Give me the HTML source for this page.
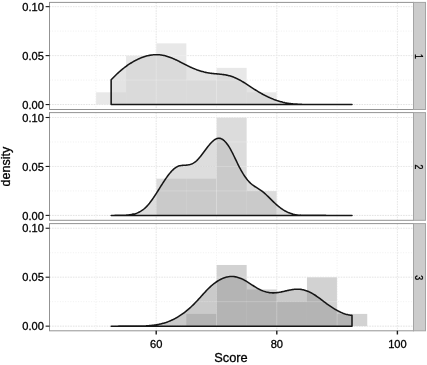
<!DOCTYPE html>
<html><head><meta charset="utf-8"><title>density</title>
<style>html,body{margin:0;padding:0;background:#fff;}svg{display:block;}</style>
</head><body>
<svg width="427" height="365" viewBox="0 0 427 365" font-family="'Liberation Sans', Arial, Helvetica, sans-serif">
<rect x="0" y="0" width="427" height="365" fill="#ffffff"/>
<g id="panel1">
<line x1="49.5" x2="413.5" y1="80.07" y2="80.07" stroke="#eeeeee" stroke-width="1" stroke-dasharray="1 1.6"/>
<line x1="49.5" x2="413.5" y1="31.12" y2="31.12" stroke="#eeeeee" stroke-width="1" stroke-dasharray="1 1.6"/>
<line x1="95.90" x2="95.90" y1="2.4" y2="109.5" stroke="#eeeeee" stroke-width="1" stroke-dasharray="1 1.6"/>
<line x1="216.50" x2="216.50" y1="2.4" y2="109.5" stroke="#eeeeee" stroke-width="1" stroke-dasharray="1 1.6"/>
<line x1="337.10" x2="337.10" y1="2.4" y2="109.5" stroke="#eeeeee" stroke-width="1" stroke-dasharray="1 1.6"/>
<line x1="49.5" x2="413.5" y1="104.55" y2="104.55" stroke="#e1e1e1" stroke-width="1" stroke-dasharray="1.6 1"/>
<line x1="49.5" x2="413.5" y1="55.60" y2="55.60" stroke="#e1e1e1" stroke-width="1" stroke-dasharray="1.6 1"/>
<line x1="49.5" x2="413.5" y1="6.65" y2="6.65" stroke="#e1e1e1" stroke-width="1" stroke-dasharray="1.6 1"/>
<line x1="156.20" x2="156.20" y1="2.4" y2="109.5" stroke="#e1e1e1" stroke-width="1" stroke-dasharray="1.6 1"/>
<line x1="276.80" x2="276.80" y1="2.4" y2="109.5" stroke="#e1e1e1" stroke-width="1" stroke-dasharray="1.6 1"/>
<line x1="397.40" x2="397.40" y1="2.4" y2="109.5" stroke="#e1e1e1" stroke-width="1" stroke-dasharray="1.6 1"/>
<rect x="95.90" y="92.31" width="30.15" height="12.24" fill="#e8e8e8"/>
<rect x="126.05" y="55.60" width="30.15" height="48.95" fill="#e8e8e8"/>
<rect x="156.20" y="43.36" width="30.15" height="61.19" fill="#e8e8e8"/>
<rect x="186.35" y="80.07" width="30.15" height="24.48" fill="#e8e8e8"/>
<rect x="216.50" y="67.84" width="30.15" height="36.71" fill="#e8e8e8"/>
<rect x="246.65" y="92.31" width="30.15" height="12.24" fill="#e8e8e8"/>
<path d="M111.15,104.55 L111.15,79.80 L111.90,79.02 L112.65,78.23 L113.40,77.45 L114.15,76.69 L114.90,75.94 L115.65,75.21 L116.40,74.49 L117.15,73.78 L117.90,73.08 L118.65,72.40 L119.40,71.73 L120.15,71.08 L120.90,70.43 L121.65,69.80 L122.40,69.19 L123.15,68.58 L123.90,67.99 L124.65,67.41 L125.40,66.85 L126.15,66.29 L126.90,65.75 L127.65,65.23 L128.40,64.71 L129.15,64.21 L129.90,63.72 L130.65,63.24 L131.40,62.77 L132.15,62.32 L132.90,61.88 L133.65,61.45 L134.40,61.03 L135.15,60.63 L135.90,60.24 L136.65,59.86 L137.40,59.49 L138.15,59.13 L138.90,58.79 L139.65,58.46 L140.40,58.14 L141.15,57.83 L141.90,57.54 L142.65,57.26 L143.40,57.00 L144.15,56.74 L144.90,56.51 L145.65,56.28 L146.40,56.07 L147.15,55.87 L147.90,55.69 L148.65,55.52 L149.40,55.37 L150.15,55.23 L150.90,55.11 L151.65,55.00 L152.40,54.91 L153.15,54.83 L153.90,54.77 L154.65,54.72 L155.40,54.69 L156.15,54.67 L156.90,54.67 L157.65,54.69 L158.40,54.73 L159.15,54.78 L159.90,54.84 L160.65,54.93 L161.40,55.03 L162.15,55.15 L162.90,55.28 L163.65,55.43 L164.40,55.60 L165.15,55.78 L165.90,55.98 L166.65,56.19 L167.40,56.42 L168.15,56.65 L168.90,56.91 L169.65,57.17 L170.40,57.45 L171.15,57.74 L171.90,58.04 L172.65,58.35 L173.40,58.67 L174.15,59.00 L174.90,59.34 L175.65,59.70 L176.40,60.06 L177.15,60.42 L177.90,60.80 L178.65,61.17 L179.40,61.56 L180.15,61.95 L180.90,62.34 L181.65,62.73 L182.40,63.12 L183.15,63.51 L183.90,63.90 L184.65,64.29 L185.40,64.67 L186.15,65.05 L186.90,65.42 L187.65,65.79 L188.40,66.15 L189.15,66.51 L189.90,66.86 L190.65,67.20 L191.40,67.53 L192.15,67.86 L192.90,68.18 L193.65,68.50 L194.40,68.80 L195.15,69.10 L195.90,69.39 L196.65,69.67 L197.40,69.95 L198.15,70.21 L198.90,70.47 L199.65,70.72 L200.40,70.96 L201.15,71.19 L201.90,71.41 L202.65,71.62 L203.40,71.82 L204.15,72.02 L204.90,72.20 L205.65,72.37 L206.40,72.53 L207.15,72.69 L207.90,72.83 L208.65,72.96 L209.40,73.08 L210.15,73.19 L210.90,73.29 L211.65,73.38 L212.40,73.47 L213.15,73.55 L213.90,73.62 L214.65,73.69 L215.40,73.76 L216.15,73.82 L216.90,73.89 L217.65,73.95 L218.40,74.02 L219.15,74.09 L219.90,74.16 L220.65,74.23 L221.40,74.32 L222.15,74.41 L222.90,74.50 L223.65,74.61 L224.40,74.72 L225.15,74.85 L225.90,74.99 L226.65,75.13 L227.40,75.29 L228.15,75.47 L228.90,75.65 L229.65,75.85 L230.40,76.06 L231.15,76.29 L231.90,76.53 L232.65,76.79 L233.40,77.07 L234.15,77.36 L234.90,77.67 L235.65,77.99 L236.40,78.34 L237.15,78.69 L237.90,79.07 L238.65,79.45 L239.40,79.85 L240.15,80.26 L240.90,80.69 L241.65,81.12 L242.40,81.56 L243.15,82.01 L243.90,82.47 L244.65,82.94 L245.40,83.41 L246.15,83.89 L246.90,84.37 L247.65,84.86 L248.40,85.35 L249.15,85.84 L249.90,86.33 L250.65,86.83 L251.40,87.32 L252.15,87.81 L252.90,88.30 L253.65,88.79 L254.40,89.28 L255.15,89.76 L255.90,90.23 L256.65,90.70 L257.40,91.16 L258.15,91.62 L258.90,92.07 L259.65,92.51 L260.40,92.94 L261.15,93.37 L261.90,93.79 L262.65,94.20 L263.40,94.61 L264.15,95.00 L264.90,95.39 L265.65,95.77 L266.40,96.15 L267.15,96.51 L267.90,96.87 L268.65,97.22 L269.40,97.56 L270.15,97.89 L270.90,98.22 L271.65,98.54 L272.40,98.84 L273.15,99.14 L273.90,99.44 L274.65,99.72 L275.40,99.99 L276.15,100.26 L276.90,100.52 L277.65,100.76 L278.40,101.00 L279.15,101.23 L279.90,101.45 L280.65,101.67 L281.40,101.87 L282.15,102.06 L282.90,102.25 L283.65,102.42 L284.40,102.59 L285.15,102.75 L285.90,102.89 L286.65,103.03 L287.40,103.17 L288.15,103.29 L288.90,103.41 L289.65,103.52 L290.40,103.62 L291.15,103.71 L291.90,103.80 L292.65,103.88 L293.40,103.95 L294.15,104.02 L294.90,104.08 L295.65,104.14 L296.40,104.07 L297.15,104.13 L297.90,104.18 L298.65,104.23 L299.40,104.27 L300.15,104.31 L300.90,104.34 L301.65,104.37 L302.40,104.40 L303.15,104.43 L303.90,104.45 L304.65,104.47 L305.40,104.48 L306.15,104.50 L306.90,104.52 L307.65,104.53 L308.40,104.54 L309.15,104.55 L309.90,104.55 L310.65,104.55 L311.40,104.55 L312.15,104.55 L312.90,104.55 L313.65,104.55 L314.40,104.55 L315.15,104.55 L315.90,104.55 L316.65,104.55 L317.40,104.55 L318.15,104.55 L318.90,104.55 L319.65,104.55 L320.40,104.55 L321.15,104.55 L321.90,104.55 L322.65,104.55 L323.40,104.55 L324.15,104.55 L324.90,104.55 L325.65,104.55 L326.40,104.55 L327.15,104.55 L327.90,104.55 L328.65,104.55 L329.40,104.55 L330.15,104.55 L330.90,104.55 L331.65,104.55 L332.40,104.55 L333.15,104.55 L333.90,104.55 L334.65,104.55 L335.40,104.55 L336.15,104.55 L336.90,104.55 L337.65,104.55 L338.40,104.55 L339.15,104.55 L339.90,104.55 L340.65,104.55 L341.40,104.55 L342.15,104.55 L342.90,104.55 L343.65,104.55 L344.40,104.55 L345.15,104.55 L345.90,104.55 L346.65,104.55 L347.40,104.55 L348.15,104.55 L348.90,104.55 L349.65,104.55 L350.40,104.55 L351.15,104.55 L351.90,104.55 L352.00,104.55 L352.00,104.55 Z" fill="rgba(209,209,209,0.61)" stroke="none"/>
<line x1="49.5" x2="413.5" y1="80.07" y2="80.07" stroke="#fff" stroke-opacity="0.22" stroke-width="1"/>
<line x1="49.5" x2="413.5" y1="55.60" y2="55.60" stroke="#fff" stroke-opacity="0.22" stroke-width="1"/>
<line x1="49.5" x2="413.5" y1="31.12" y2="31.12" stroke="#fff" stroke-opacity="0.22" stroke-width="1"/>
<line x1="49.5" x2="413.5" y1="6.65" y2="6.65" stroke="#fff" stroke-opacity="0.22" stroke-width="1"/>
<line x1="95.90" x2="95.90" y1="2.4" y2="109.5" stroke="#fff" stroke-opacity="0.22" stroke-width="1"/>
<line x1="156.20" x2="156.20" y1="2.4" y2="109.5" stroke="#fff" stroke-opacity="0.22" stroke-width="1"/>
<line x1="216.50" x2="216.50" y1="2.4" y2="109.5" stroke="#fff" stroke-opacity="0.22" stroke-width="1"/>
<line x1="276.80" x2="276.80" y1="2.4" y2="109.5" stroke="#fff" stroke-opacity="0.22" stroke-width="1"/>
<line x1="337.10" x2="337.10" y1="2.4" y2="109.5" stroke="#fff" stroke-opacity="0.22" stroke-width="1"/>
<line x1="397.40" x2="397.40" y1="2.4" y2="109.5" stroke="#fff" stroke-opacity="0.22" stroke-width="1"/>
<path d="M111.15,104.55 L111.15,79.80 L111.90,79.02 L112.65,78.23 L113.40,77.45 L114.15,76.69 L114.90,75.94 L115.65,75.21 L116.40,74.49 L117.15,73.78 L117.90,73.08 L118.65,72.40 L119.40,71.73 L120.15,71.08 L120.90,70.43 L121.65,69.80 L122.40,69.19 L123.15,68.58 L123.90,67.99 L124.65,67.41 L125.40,66.85 L126.15,66.29 L126.90,65.75 L127.65,65.23 L128.40,64.71 L129.15,64.21 L129.90,63.72 L130.65,63.24 L131.40,62.77 L132.15,62.32 L132.90,61.88 L133.65,61.45 L134.40,61.03 L135.15,60.63 L135.90,60.24 L136.65,59.86 L137.40,59.49 L138.15,59.13 L138.90,58.79 L139.65,58.46 L140.40,58.14 L141.15,57.83 L141.90,57.54 L142.65,57.26 L143.40,57.00 L144.15,56.74 L144.90,56.51 L145.65,56.28 L146.40,56.07 L147.15,55.87 L147.90,55.69 L148.65,55.52 L149.40,55.37 L150.15,55.23 L150.90,55.11 L151.65,55.00 L152.40,54.91 L153.15,54.83 L153.90,54.77 L154.65,54.72 L155.40,54.69 L156.15,54.67 L156.90,54.67 L157.65,54.69 L158.40,54.73 L159.15,54.78 L159.90,54.84 L160.65,54.93 L161.40,55.03 L162.15,55.15 L162.90,55.28 L163.65,55.43 L164.40,55.60 L165.15,55.78 L165.90,55.98 L166.65,56.19 L167.40,56.42 L168.15,56.65 L168.90,56.91 L169.65,57.17 L170.40,57.45 L171.15,57.74 L171.90,58.04 L172.65,58.35 L173.40,58.67 L174.15,59.00 L174.90,59.34 L175.65,59.70 L176.40,60.06 L177.15,60.42 L177.90,60.80 L178.65,61.17 L179.40,61.56 L180.15,61.95 L180.90,62.34 L181.65,62.73 L182.40,63.12 L183.15,63.51 L183.90,63.90 L184.65,64.29 L185.40,64.67 L186.15,65.05 L186.90,65.42 L187.65,65.79 L188.40,66.15 L189.15,66.51 L189.90,66.86 L190.65,67.20 L191.40,67.53 L192.15,67.86 L192.90,68.18 L193.65,68.50 L194.40,68.80 L195.15,69.10 L195.90,69.39 L196.65,69.67 L197.40,69.95 L198.15,70.21 L198.90,70.47 L199.65,70.72 L200.40,70.96 L201.15,71.19 L201.90,71.41 L202.65,71.62 L203.40,71.82 L204.15,72.02 L204.90,72.20 L205.65,72.37 L206.40,72.53 L207.15,72.69 L207.90,72.83 L208.65,72.96 L209.40,73.08 L210.15,73.19 L210.90,73.29 L211.65,73.38 L212.40,73.47 L213.15,73.55 L213.90,73.62 L214.65,73.69 L215.40,73.76 L216.15,73.82 L216.90,73.89 L217.65,73.95 L218.40,74.02 L219.15,74.09 L219.90,74.16 L220.65,74.23 L221.40,74.32 L222.15,74.41 L222.90,74.50 L223.65,74.61 L224.40,74.72 L225.15,74.85 L225.90,74.99 L226.65,75.13 L227.40,75.29 L228.15,75.47 L228.90,75.65 L229.65,75.85 L230.40,76.06 L231.15,76.29 L231.90,76.53 L232.65,76.79 L233.40,77.07 L234.15,77.36 L234.90,77.67 L235.65,77.99 L236.40,78.34 L237.15,78.69 L237.90,79.07 L238.65,79.45 L239.40,79.85 L240.15,80.26 L240.90,80.69 L241.65,81.12 L242.40,81.56 L243.15,82.01 L243.90,82.47 L244.65,82.94 L245.40,83.41 L246.15,83.89 L246.90,84.37 L247.65,84.86 L248.40,85.35 L249.15,85.84 L249.90,86.33 L250.65,86.83 L251.40,87.32 L252.15,87.81 L252.90,88.30 L253.65,88.79 L254.40,89.28 L255.15,89.76 L255.90,90.23 L256.65,90.70 L257.40,91.16 L258.15,91.62 L258.90,92.07 L259.65,92.51 L260.40,92.94 L261.15,93.37 L261.90,93.79 L262.65,94.20 L263.40,94.61 L264.15,95.00 L264.90,95.39 L265.65,95.77 L266.40,96.15 L267.15,96.51 L267.90,96.87 L268.65,97.22 L269.40,97.56 L270.15,97.89 L270.90,98.22 L271.65,98.54 L272.40,98.84 L273.15,99.14 L273.90,99.44 L274.65,99.72 L275.40,99.99 L276.15,100.26 L276.90,100.52 L277.65,100.76 L278.40,101.00 L279.15,101.23 L279.90,101.45 L280.65,101.67 L281.40,101.87 L282.15,102.06 L282.90,102.25 L283.65,102.42 L284.40,102.59 L285.15,102.75 L285.90,102.89 L286.65,103.03 L287.40,103.17 L288.15,103.29 L288.90,103.41 L289.65,103.52 L290.40,103.62 L291.15,103.71 L291.90,103.80 L292.65,103.88 L293.40,103.95 L294.15,104.02 L294.90,104.08 L295.65,104.14 L296.40,104.07 L297.15,104.13 L297.90,104.18 L298.65,104.23 L299.40,104.27 L300.15,104.31 L300.90,104.34 L301.65,104.37 L302.40,104.40 L303.15,104.43 L303.90,104.45 L304.65,104.47 L305.40,104.48 L306.15,104.50 L306.90,104.52 L307.65,104.53 L308.40,104.54 L309.15,104.55 L309.90,104.55 L310.65,104.55 L311.40,104.55 L312.15,104.55 L312.90,104.55 L313.65,104.55 L314.40,104.55 L315.15,104.55 L315.90,104.55 L316.65,104.55 L317.40,104.55 L318.15,104.55 L318.90,104.55 L319.65,104.55 L320.40,104.55 L321.15,104.55 L321.90,104.55 L322.65,104.55 L323.40,104.55 L324.15,104.55 L324.90,104.55 L325.65,104.55 L326.40,104.55 L327.15,104.55 L327.90,104.55 L328.65,104.55 L329.40,104.55 L330.15,104.55 L330.90,104.55 L331.65,104.55 L332.40,104.55 L333.15,104.55 L333.90,104.55 L334.65,104.55 L335.40,104.55 L336.15,104.55 L336.90,104.55 L337.65,104.55 L338.40,104.55 L339.15,104.55 L339.90,104.55 L340.65,104.55 L341.40,104.55 L342.15,104.55 L342.90,104.55 L343.65,104.55 L344.40,104.55 L345.15,104.55 L345.90,104.55 L346.65,104.55 L347.40,104.55 L348.15,104.55 L348.90,104.55 L349.65,104.55 L350.40,104.55 L351.15,104.55 L351.90,104.55 L352.00,104.55 L352.00,104.55 Z" fill="none" stroke="#161616" stroke-width="1.55" stroke-linejoin="round"/>
<rect x="49.5" y="2.4" width="364.0" height="107.1" fill="none" stroke="#939393" stroke-width="1"/>
<rect x="413.5" y="2.4" width="12.0" height="107.1" fill="#cccccc" stroke="#a4a4a4" stroke-width="1"/>
<text x="0" y="0" font-size="10.2" fill="#000" stroke="#000" stroke-width="0.3" text-anchor="middle" transform="translate(415.20,56.35) rotate(90) scale(0.86,1)">1</text>
<line x1="45.6" x2="49.5" y1="104.55" y2="104.55" stroke="#1a1a1a" stroke-width="1.1"/>
<text x="43.9" y="108.70" font-size="11.1" fill="#000" stroke="#000" stroke-width="0.3" text-anchor="end">0.00</text>
<line x1="45.6" x2="49.5" y1="55.60" y2="55.60" stroke="#1a1a1a" stroke-width="1.1"/>
<text x="43.9" y="59.75" font-size="11.1" fill="#000" stroke="#000" stroke-width="0.3" text-anchor="end">0.05</text>
<line x1="45.6" x2="49.5" y1="6.65" y2="6.65" stroke="#1a1a1a" stroke-width="1.1"/>
<text x="43.9" y="10.80" font-size="11.1" fill="#000" stroke="#000" stroke-width="0.3" text-anchor="end">0.10</text>
</g>
<g id="panel2">
<line x1="49.5" x2="413.5" y1="190.93" y2="190.93" stroke="#eeeeee" stroke-width="1" stroke-dasharray="1 1.6"/>
<line x1="49.5" x2="413.5" y1="141.98" y2="141.98" stroke="#eeeeee" stroke-width="1" stroke-dasharray="1 1.6"/>
<line x1="95.90" x2="95.90" y1="112.6" y2="220.3" stroke="#eeeeee" stroke-width="1" stroke-dasharray="1 1.6"/>
<line x1="216.50" x2="216.50" y1="112.6" y2="220.3" stroke="#eeeeee" stroke-width="1" stroke-dasharray="1 1.6"/>
<line x1="337.10" x2="337.10" y1="112.6" y2="220.3" stroke="#eeeeee" stroke-width="1" stroke-dasharray="1 1.6"/>
<line x1="49.5" x2="413.5" y1="215.40" y2="215.40" stroke="#e1e1e1" stroke-width="1" stroke-dasharray="1.6 1"/>
<line x1="49.5" x2="413.5" y1="166.45" y2="166.45" stroke="#e1e1e1" stroke-width="1" stroke-dasharray="1.6 1"/>
<line x1="49.5" x2="413.5" y1="117.50" y2="117.50" stroke="#e1e1e1" stroke-width="1" stroke-dasharray="1.6 1"/>
<line x1="156.20" x2="156.20" y1="112.6" y2="220.3" stroke="#e1e1e1" stroke-width="1" stroke-dasharray="1.6 1"/>
<line x1="276.80" x2="276.80" y1="112.6" y2="220.3" stroke="#e1e1e1" stroke-width="1" stroke-dasharray="1.6 1"/>
<line x1="397.40" x2="397.40" y1="112.6" y2="220.3" stroke="#e1e1e1" stroke-width="1" stroke-dasharray="1.6 1"/>
<rect x="156.20" y="178.69" width="30.15" height="36.71" fill="#dcdcdc"/>
<rect x="186.35" y="178.69" width="30.15" height="36.71" fill="#dcdcdc"/>
<rect x="216.50" y="117.50" width="30.15" height="97.90" fill="#dcdcdc"/>
<rect x="246.65" y="190.93" width="30.15" height="24.48" fill="#dcdcdc"/>
<path d="M111.20,215.40 L111.20,215.40 L111.95,215.40 L112.70,215.40 L113.45,215.40 L114.20,215.40 L114.95,215.39 L115.70,215.39 L116.45,215.39 L117.20,215.38 L117.95,215.38 L118.70,215.37 L119.45,215.37 L120.20,215.35 L120.95,215.34 L121.70,215.32 L122.45,215.29 L123.20,215.27 L123.95,215.24 L124.70,215.21 L125.45,215.18 L126.20,215.13 L126.95,215.06 L127.70,214.99 L128.45,214.90 L129.20,214.80 L129.95,214.69 L130.70,214.58 L131.45,214.45 L132.20,214.29 L132.95,214.11 L133.70,214.08 L134.45,213.88 L135.20,213.67 L135.95,213.43 L136.70,213.16 L137.45,212.86 L138.20,212.54 L138.95,212.18 L139.70,211.80 L140.45,211.38 L141.20,210.92 L141.95,210.43 L142.70,209.90 L143.45,209.34 L144.20,208.73 L144.95,208.08 L145.70,207.39 L146.45,206.65 L147.20,205.87 L147.95,205.05 L148.70,204.17 L149.45,203.26 L150.20,202.30 L150.95,201.31 L151.70,200.28 L152.45,199.23 L153.20,198.14 L153.95,197.04 L154.70,195.91 L155.45,194.76 L156.20,193.59 L156.95,192.41 L157.70,191.23 L158.45,190.03 L159.20,188.84 L159.95,187.64 L160.70,186.44 L161.45,185.25 L162.20,184.07 L162.95,182.90 L163.70,181.74 L164.45,180.60 L165.20,179.49 L165.95,178.39 L166.70,177.32 L167.45,176.28 L168.20,175.27 L168.95,174.30 L169.70,173.37 L170.45,172.47 L171.20,171.62 L171.95,170.82 L172.70,170.07 L173.45,169.36 L174.20,168.71 L174.95,168.11 L175.70,167.58 L176.45,167.10 L177.20,166.69 L177.95,166.34 L178.70,166.05 L179.45,165.83 L180.20,165.66 L180.95,165.53 L181.70,165.44 L182.45,165.37 L183.20,165.32 L183.95,165.27 L184.70,165.23 L185.45,165.18 L186.20,165.12 L186.95,165.04 L187.70,164.95 L188.45,164.83 L189.20,164.68 L189.95,164.50 L190.70,164.28 L191.45,164.02 L192.20,163.71 L192.95,163.35 L193.70,162.93 L194.45,162.45 L195.20,161.90 L195.95,161.28 L196.70,160.60 L197.45,159.86 L198.20,159.07 L198.95,158.23 L199.70,157.36 L200.45,156.44 L201.20,155.50 L201.95,154.53 L202.70,153.54 L203.45,152.54 L204.20,151.53 L204.95,150.52 L205.70,149.51 L206.45,148.51 L207.20,147.53 L207.95,146.57 L208.70,145.63 L209.45,144.72 L210.20,143.85 L210.95,143.02 L211.70,142.24 L212.45,141.51 L213.20,140.84 L213.95,140.24 L214.70,139.70 L215.45,139.24 L216.20,138.87 L216.95,138.58 L217.70,138.38 L218.45,138.28 L219.20,138.27 L219.95,138.37 L220.70,138.56 L221.45,138.85 L222.20,139.24 L222.95,139.71 L223.70,140.28 L224.45,140.93 L225.20,141.68 L225.95,142.51 L226.70,143.42 L227.45,144.42 L228.20,145.49 L228.95,146.65 L229.70,147.89 L230.45,149.20 L231.20,150.57 L231.95,152.00 L232.70,153.47 L233.45,154.98 L234.20,156.52 L234.95,158.07 L235.70,159.64 L236.45,161.20 L237.20,162.76 L237.95,164.30 L238.70,165.81 L239.45,167.29 L240.20,168.72 L240.95,170.10 L241.70,171.43 L242.45,172.70 L243.20,173.93 L243.95,175.10 L244.70,176.22 L245.45,177.30 L246.20,178.31 L246.95,179.28 L247.70,180.20 L248.45,181.06 L249.20,181.87 L249.95,182.63 L250.70,183.34 L251.45,183.99 L252.20,184.61 L252.95,185.18 L253.70,185.72 L254.45,186.24 L255.20,186.73 L255.95,187.20 L256.70,187.67 L257.45,188.13 L258.20,188.59 L258.95,189.05 L259.70,189.53 L260.45,190.03 L261.20,190.55 L261.95,191.10 L262.70,191.69 L263.45,192.30 L264.20,192.94 L264.95,193.60 L265.70,194.28 L266.45,194.98 L267.20,195.70 L267.95,196.43 L268.70,197.16 L269.45,197.91 L270.20,198.65 L270.95,199.40 L271.70,200.15 L272.45,200.89 L273.20,201.62 L273.95,202.34 L274.70,203.05 L275.45,203.74 L276.20,204.41 L276.95,205.07 L277.70,205.71 L278.45,206.32 L279.20,206.92 L279.95,207.50 L280.70,208.06 L281.45,208.60 L282.20,209.12 L282.95,209.62 L283.70,210.09 L284.45,210.54 L285.20,210.97 L285.95,211.38 L286.70,211.77 L287.45,212.13 L288.20,212.47 L288.95,212.78 L289.70,213.08 L290.45,213.35 L291.20,213.61 L291.95,213.84 L292.70,214.06 L293.45,214.26 L294.20,214.43 L294.95,214.60 L295.70,214.74 L296.45,214.87 L297.20,214.98 L297.95,215.07 L298.70,215.15 L299.45,215.22 L300.20,215.11 L300.95,215.16 L301.70,215.20 L302.45,215.23 L303.20,215.26 L303.95,215.28 L304.70,215.31 L305.45,215.33 L306.20,215.36 L306.95,215.37 L307.70,215.38 L308.45,215.38 L309.20,215.38 L309.95,215.38 L310.70,215.38 L311.45,215.38 L312.20,215.38 L312.95,215.39 L313.70,215.39 L314.45,215.39 L315.20,215.39 L315.95,215.39 L316.70,215.39 L317.45,215.39 L318.20,215.39 L318.95,215.39 L319.70,215.39 L320.45,215.39 L321.20,215.39 L321.95,215.39 L322.70,215.39 L323.45,215.39 L324.20,215.39 L324.95,215.39 L325.70,215.39 L326.45,215.40 L327.20,215.40 L327.95,215.40 L328.70,215.40 L329.45,215.40 L330.20,215.40 L330.95,215.40 L331.70,215.40 L332.45,215.40 L333.20,215.40 L333.95,215.40 L334.70,215.40 L335.45,215.40 L336.20,215.40 L336.95,215.40 L337.70,215.40 L338.45,215.40 L339.20,215.40 L339.95,215.40 L340.70,215.40 L341.45,215.40 L342.20,215.40 L342.95,215.40 L343.70,215.40 L344.45,215.40 L345.20,215.40 L345.95,215.40 L346.70,215.40 L347.45,215.40 L348.20,215.40 L348.95,215.40 L349.70,215.40 L350.45,215.40 L351.20,215.40 L351.95,215.40 L352.00,215.40 L352.00,215.40 Z" fill="rgba(181,181,181,0.46)" stroke="none"/>
<line x1="49.5" x2="413.5" y1="190.93" y2="190.93" stroke="#fff" stroke-opacity="0.22" stroke-width="1"/>
<line x1="49.5" x2="413.5" y1="166.45" y2="166.45" stroke="#fff" stroke-opacity="0.22" stroke-width="1"/>
<line x1="49.5" x2="413.5" y1="141.98" y2="141.98" stroke="#fff" stroke-opacity="0.22" stroke-width="1"/>
<line x1="49.5" x2="413.5" y1="117.50" y2="117.50" stroke="#fff" stroke-opacity="0.22" stroke-width="1"/>
<line x1="95.90" x2="95.90" y1="112.6" y2="220.3" stroke="#fff" stroke-opacity="0.22" stroke-width="1"/>
<line x1="156.20" x2="156.20" y1="112.6" y2="220.3" stroke="#fff" stroke-opacity="0.22" stroke-width="1"/>
<line x1="216.50" x2="216.50" y1="112.6" y2="220.3" stroke="#fff" stroke-opacity="0.22" stroke-width="1"/>
<line x1="276.80" x2="276.80" y1="112.6" y2="220.3" stroke="#fff" stroke-opacity="0.22" stroke-width="1"/>
<line x1="337.10" x2="337.10" y1="112.6" y2="220.3" stroke="#fff" stroke-opacity="0.22" stroke-width="1"/>
<line x1="397.40" x2="397.40" y1="112.6" y2="220.3" stroke="#fff" stroke-opacity="0.22" stroke-width="1"/>
<path d="M111.20,215.40 L111.20,215.40 L111.95,215.40 L112.70,215.40 L113.45,215.40 L114.20,215.40 L114.95,215.39 L115.70,215.39 L116.45,215.39 L117.20,215.38 L117.95,215.38 L118.70,215.37 L119.45,215.37 L120.20,215.35 L120.95,215.34 L121.70,215.32 L122.45,215.29 L123.20,215.27 L123.95,215.24 L124.70,215.21 L125.45,215.18 L126.20,215.13 L126.95,215.06 L127.70,214.99 L128.45,214.90 L129.20,214.80 L129.95,214.69 L130.70,214.58 L131.45,214.45 L132.20,214.29 L132.95,214.11 L133.70,214.08 L134.45,213.88 L135.20,213.67 L135.95,213.43 L136.70,213.16 L137.45,212.86 L138.20,212.54 L138.95,212.18 L139.70,211.80 L140.45,211.38 L141.20,210.92 L141.95,210.43 L142.70,209.90 L143.45,209.34 L144.20,208.73 L144.95,208.08 L145.70,207.39 L146.45,206.65 L147.20,205.87 L147.95,205.05 L148.70,204.17 L149.45,203.26 L150.20,202.30 L150.95,201.31 L151.70,200.28 L152.45,199.23 L153.20,198.14 L153.95,197.04 L154.70,195.91 L155.45,194.76 L156.20,193.59 L156.95,192.41 L157.70,191.23 L158.45,190.03 L159.20,188.84 L159.95,187.64 L160.70,186.44 L161.45,185.25 L162.20,184.07 L162.95,182.90 L163.70,181.74 L164.45,180.60 L165.20,179.49 L165.95,178.39 L166.70,177.32 L167.45,176.28 L168.20,175.27 L168.95,174.30 L169.70,173.37 L170.45,172.47 L171.20,171.62 L171.95,170.82 L172.70,170.07 L173.45,169.36 L174.20,168.71 L174.95,168.11 L175.70,167.58 L176.45,167.10 L177.20,166.69 L177.95,166.34 L178.70,166.05 L179.45,165.83 L180.20,165.66 L180.95,165.53 L181.70,165.44 L182.45,165.37 L183.20,165.32 L183.95,165.27 L184.70,165.23 L185.45,165.18 L186.20,165.12 L186.95,165.04 L187.70,164.95 L188.45,164.83 L189.20,164.68 L189.95,164.50 L190.70,164.28 L191.45,164.02 L192.20,163.71 L192.95,163.35 L193.70,162.93 L194.45,162.45 L195.20,161.90 L195.95,161.28 L196.70,160.60 L197.45,159.86 L198.20,159.07 L198.95,158.23 L199.70,157.36 L200.45,156.44 L201.20,155.50 L201.95,154.53 L202.70,153.54 L203.45,152.54 L204.20,151.53 L204.95,150.52 L205.70,149.51 L206.45,148.51 L207.20,147.53 L207.95,146.57 L208.70,145.63 L209.45,144.72 L210.20,143.85 L210.95,143.02 L211.70,142.24 L212.45,141.51 L213.20,140.84 L213.95,140.24 L214.70,139.70 L215.45,139.24 L216.20,138.87 L216.95,138.58 L217.70,138.38 L218.45,138.28 L219.20,138.27 L219.95,138.37 L220.70,138.56 L221.45,138.85 L222.20,139.24 L222.95,139.71 L223.70,140.28 L224.45,140.93 L225.20,141.68 L225.95,142.51 L226.70,143.42 L227.45,144.42 L228.20,145.49 L228.95,146.65 L229.70,147.89 L230.45,149.20 L231.20,150.57 L231.95,152.00 L232.70,153.47 L233.45,154.98 L234.20,156.52 L234.95,158.07 L235.70,159.64 L236.45,161.20 L237.20,162.76 L237.95,164.30 L238.70,165.81 L239.45,167.29 L240.20,168.72 L240.95,170.10 L241.70,171.43 L242.45,172.70 L243.20,173.93 L243.95,175.10 L244.70,176.22 L245.45,177.30 L246.20,178.31 L246.95,179.28 L247.70,180.20 L248.45,181.06 L249.20,181.87 L249.95,182.63 L250.70,183.34 L251.45,183.99 L252.20,184.61 L252.95,185.18 L253.70,185.72 L254.45,186.24 L255.20,186.73 L255.95,187.20 L256.70,187.67 L257.45,188.13 L258.20,188.59 L258.95,189.05 L259.70,189.53 L260.45,190.03 L261.20,190.55 L261.95,191.10 L262.70,191.69 L263.45,192.30 L264.20,192.94 L264.95,193.60 L265.70,194.28 L266.45,194.98 L267.20,195.70 L267.95,196.43 L268.70,197.16 L269.45,197.91 L270.20,198.65 L270.95,199.40 L271.70,200.15 L272.45,200.89 L273.20,201.62 L273.95,202.34 L274.70,203.05 L275.45,203.74 L276.20,204.41 L276.95,205.07 L277.70,205.71 L278.45,206.32 L279.20,206.92 L279.95,207.50 L280.70,208.06 L281.45,208.60 L282.20,209.12 L282.95,209.62 L283.70,210.09 L284.45,210.54 L285.20,210.97 L285.95,211.38 L286.70,211.77 L287.45,212.13 L288.20,212.47 L288.95,212.78 L289.70,213.08 L290.45,213.35 L291.20,213.61 L291.95,213.84 L292.70,214.06 L293.45,214.26 L294.20,214.43 L294.95,214.60 L295.70,214.74 L296.45,214.87 L297.20,214.98 L297.95,215.07 L298.70,215.15 L299.45,215.22 L300.20,215.11 L300.95,215.16 L301.70,215.20 L302.45,215.23 L303.20,215.26 L303.95,215.28 L304.70,215.31 L305.45,215.33 L306.20,215.36 L306.95,215.37 L307.70,215.38 L308.45,215.38 L309.20,215.38 L309.95,215.38 L310.70,215.38 L311.45,215.38 L312.20,215.38 L312.95,215.39 L313.70,215.39 L314.45,215.39 L315.20,215.39 L315.95,215.39 L316.70,215.39 L317.45,215.39 L318.20,215.39 L318.95,215.39 L319.70,215.39 L320.45,215.39 L321.20,215.39 L321.95,215.39 L322.70,215.39 L323.45,215.39 L324.20,215.39 L324.95,215.39 L325.70,215.39 L326.45,215.40 L327.20,215.40 L327.95,215.40 L328.70,215.40 L329.45,215.40 L330.20,215.40 L330.95,215.40 L331.70,215.40 L332.45,215.40 L333.20,215.40 L333.95,215.40 L334.70,215.40 L335.45,215.40 L336.20,215.40 L336.95,215.40 L337.70,215.40 L338.45,215.40 L339.20,215.40 L339.95,215.40 L340.70,215.40 L341.45,215.40 L342.20,215.40 L342.95,215.40 L343.70,215.40 L344.45,215.40 L345.20,215.40 L345.95,215.40 L346.70,215.40 L347.45,215.40 L348.20,215.40 L348.95,215.40 L349.70,215.40 L350.45,215.40 L351.20,215.40 L351.95,215.40 L352.00,215.40 L352.00,215.40 Z" fill="none" stroke="#161616" stroke-width="1.55" stroke-linejoin="round"/>
<rect x="49.5" y="112.6" width="364.0" height="107.70000000000002" fill="none" stroke="#939393" stroke-width="1"/>
<rect x="413.5" y="112.6" width="12.0" height="107.70000000000002" fill="#cccccc" stroke="#a4a4a4" stroke-width="1"/>
<text x="0" y="0" font-size="10.2" fill="#000" stroke="#000" stroke-width="0.3" text-anchor="middle" transform="translate(415.20,166.85) rotate(90) scale(0.86,1)">2</text>
<line x1="45.6" x2="49.5" y1="215.40" y2="215.40" stroke="#1a1a1a" stroke-width="1.1"/>
<text x="43.9" y="219.55" font-size="11.1" fill="#000" stroke="#000" stroke-width="0.3" text-anchor="end">0.00</text>
<line x1="45.6" x2="49.5" y1="166.45" y2="166.45" stroke="#1a1a1a" stroke-width="1.1"/>
<text x="43.9" y="170.60" font-size="11.1" fill="#000" stroke="#000" stroke-width="0.3" text-anchor="end">0.05</text>
<line x1="45.6" x2="49.5" y1="117.50" y2="117.50" stroke="#1a1a1a" stroke-width="1.1"/>
<text x="43.9" y="121.65" font-size="11.1" fill="#000" stroke="#000" stroke-width="0.3" text-anchor="end">0.10</text>
</g>
<g id="panel3">
<line x1="49.5" x2="413.5" y1="301.67" y2="301.67" stroke="#eeeeee" stroke-width="1" stroke-dasharray="1 1.6"/>
<line x1="49.5" x2="413.5" y1="252.72" y2="252.72" stroke="#eeeeee" stroke-width="1" stroke-dasharray="1 1.6"/>
<line x1="95.90" x2="95.90" y1="223.6" y2="330.8" stroke="#eeeeee" stroke-width="1" stroke-dasharray="1 1.6"/>
<line x1="216.50" x2="216.50" y1="223.6" y2="330.8" stroke="#eeeeee" stroke-width="1" stroke-dasharray="1 1.6"/>
<line x1="337.10" x2="337.10" y1="223.6" y2="330.8" stroke="#eeeeee" stroke-width="1" stroke-dasharray="1 1.6"/>
<line x1="49.5" x2="413.5" y1="326.15" y2="326.15" stroke="#e1e1e1" stroke-width="1" stroke-dasharray="1.6 1"/>
<line x1="49.5" x2="413.5" y1="277.20" y2="277.20" stroke="#e1e1e1" stroke-width="1" stroke-dasharray="1.6 1"/>
<line x1="49.5" x2="413.5" y1="228.25" y2="228.25" stroke="#e1e1e1" stroke-width="1" stroke-dasharray="1.6 1"/>
<line x1="156.20" x2="156.20" y1="223.6" y2="330.8" stroke="#e1e1e1" stroke-width="1" stroke-dasharray="1.6 1"/>
<line x1="276.80" x2="276.80" y1="223.6" y2="330.8" stroke="#e1e1e1" stroke-width="1" stroke-dasharray="1.6 1"/>
<line x1="397.40" x2="397.40" y1="223.6" y2="330.8" stroke="#e1e1e1" stroke-width="1" stroke-dasharray="1.6 1"/>
<rect x="186.35" y="313.91" width="30.15" height="12.24" fill="#d2d2d2"/>
<rect x="216.50" y="264.96" width="30.15" height="61.19" fill="#d2d2d2"/>
<rect x="246.65" y="289.44" width="30.15" height="36.71" fill="#d2d2d2"/>
<rect x="276.80" y="301.67" width="30.15" height="24.48" fill="#d2d2d2"/>
<rect x="306.95" y="277.20" width="30.15" height="48.95" fill="#d2d2d2"/>
<rect x="337.10" y="313.91" width="30.15" height="12.24" fill="#d2d2d2"/>
<path d="M111.20,326.15 L111.20,326.15 L111.95,326.15 L112.70,326.15 L113.45,326.15 L114.20,326.15 L114.95,326.15 L115.70,326.15 L116.45,326.15 L117.20,326.15 L117.95,326.15 L118.70,326.14 L119.45,326.14 L120.20,326.14 L120.95,326.14 L121.70,326.14 L122.45,326.14 L123.20,326.14 L123.95,326.14 L124.70,326.13 L125.45,326.13 L126.20,326.13 L126.95,326.13 L127.70,326.13 L128.45,326.12 L129.20,326.12 L129.95,326.12 L130.70,326.12 L131.45,326.11 L132.20,326.11 L132.95,326.11 L133.70,326.11 L134.45,326.10 L135.20,326.10 L135.95,326.10 L136.70,326.09 L137.45,326.08 L138.20,326.08 L138.95,326.07 L139.70,326.06 L140.45,326.05 L141.20,326.03 L141.95,326.02 L142.70,326.01 L143.45,325.99 L144.20,325.97 L144.95,325.95 L145.70,325.92 L146.45,325.88 L147.20,325.83 L147.95,325.76 L148.70,325.69 L149.45,325.62 L150.20,325.54 L150.95,325.46 L151.70,325.38 L152.45,325.28 L153.20,325.18 L153.95,325.14 L154.70,325.03 L155.45,324.92 L156.20,324.80 L156.95,324.68 L157.70,324.54 L158.45,324.40 L159.20,324.25 L159.95,324.09 L160.70,323.92 L161.45,323.73 L162.20,323.54 L162.95,323.34 L163.70,323.13 L164.45,322.91 L165.20,322.68 L165.95,322.44 L166.70,322.18 L167.45,321.92 L168.20,321.64 L168.95,321.35 L169.70,321.05 L170.45,320.73 L171.20,320.40 L171.95,320.06 L172.70,319.71 L173.45,319.34 L174.20,318.96 L174.95,318.57 L175.70,318.17 L176.45,317.75 L177.20,317.32 L177.95,316.87 L178.70,316.41 L179.45,315.94 L180.20,315.46 L180.95,314.96 L181.70,314.45 L182.45,313.92 L183.20,313.38 L183.95,312.83 L184.70,312.26 L185.45,311.68 L186.20,311.08 L186.95,310.47 L187.70,309.85 L188.45,309.21 L189.20,308.56 L189.95,307.90 L190.70,307.22 L191.45,306.52 L192.20,305.81 L192.95,305.09 L193.70,304.35 L194.45,303.60 L195.20,302.83 L195.95,302.05 L196.70,301.26 L197.45,300.45 L198.20,299.64 L198.95,298.81 L199.70,297.98 L200.45,297.15 L201.20,296.31 L201.95,295.48 L202.70,294.64 L203.45,293.82 L204.20,292.99 L204.95,292.18 L205.70,291.37 L206.45,290.58 L207.20,289.80 L207.95,289.04 L208.70,288.29 L209.45,287.57 L210.20,286.86 L210.95,286.18 L211.70,285.51 L212.45,284.87 L213.20,284.26 L213.95,283.66 L214.70,283.09 L215.45,282.53 L216.20,282.01 L216.95,281.50 L217.70,281.02 L218.45,280.56 L219.20,280.12 L219.95,279.71 L220.70,279.32 L221.45,278.96 L222.20,278.62 L222.95,278.30 L223.70,278.01 L224.45,277.75 L225.20,277.51 L225.95,277.29 L226.70,277.10 L227.45,276.94 L228.20,276.80 L228.95,276.68 L229.70,276.60 L230.45,276.53 L231.20,276.50 L231.95,276.49 L232.70,276.51 L233.45,276.56 L234.20,276.64 L234.95,276.74 L235.70,276.88 L236.45,277.03 L237.20,277.22 L237.95,277.43 L238.70,277.66 L239.45,277.92 L240.20,278.20 L240.95,278.50 L241.70,278.82 L242.45,279.17 L243.20,279.53 L243.95,279.92 L244.70,280.32 L245.45,280.75 L246.20,281.18 L246.95,281.64 L247.70,282.10 L248.45,282.57 L249.20,283.06 L249.95,283.55 L250.70,284.04 L251.45,284.53 L252.20,285.03 L252.95,285.52 L253.70,286.01 L254.45,286.49 L255.20,286.96 L255.95,287.42 L256.70,287.87 L257.45,288.31 L258.20,288.73 L258.95,289.13 L259.70,289.51 L260.45,289.87 L261.20,290.21 L261.95,290.53 L262.70,290.83 L263.45,291.11 L264.20,291.37 L264.95,291.61 L265.70,291.83 L266.45,292.03 L267.20,292.21 L267.95,292.36 L268.70,292.50 L269.45,292.62 L270.20,292.71 L270.95,292.79 L271.70,292.84 L272.45,292.87 L273.20,292.88 L273.95,292.87 L274.70,292.84 L275.45,292.79 L276.20,292.72 L276.95,292.64 L277.70,292.55 L278.45,292.43 L279.20,292.31 L279.95,292.18 L280.70,292.04 L281.45,291.88 L282.20,291.73 L282.95,291.56 L283.70,291.39 L284.45,291.22 L285.20,291.05 L285.95,290.88 L286.70,290.71 L287.45,290.54 L288.20,290.37 L288.95,290.21 L289.70,290.06 L290.45,289.91 L291.20,289.77 L291.95,289.64 L292.70,289.53 L293.45,289.43 L294.20,289.34 L294.95,289.26 L295.70,289.21 L296.45,289.17 L297.20,289.15 L297.95,289.15 L298.70,289.18 L299.45,289.22 L300.20,289.29 L300.95,289.39 L301.70,289.50 L302.45,289.64 L303.20,289.81 L303.95,289.99 L304.70,290.20 L305.45,290.43 L306.20,290.68 L306.95,290.95 L307.70,291.24 L308.45,291.55 L309.20,291.89 L309.95,292.24 L310.70,292.62 L311.45,293.01 L312.20,293.42 L312.95,293.85 L313.70,294.31 L314.45,294.77 L315.20,295.26 L315.95,295.76 L316.70,296.27 L317.45,296.80 L318.20,297.33 L318.95,297.88 L319.70,298.43 L320.45,298.99 L321.20,299.55 L321.95,300.12 L322.70,300.69 L323.45,301.26 L324.20,301.82 L324.95,302.39 L325.70,302.95 L326.45,303.51 L327.20,304.06 L327.95,304.60 L328.70,305.13 L329.45,305.66 L330.20,306.18 L330.95,306.68 L331.70,307.18 L332.45,307.67 L333.20,308.14 L333.95,308.61 L334.70,309.06 L335.45,309.50 L336.20,309.93 L336.95,310.35 L337.70,310.75 L338.45,311.14 L339.20,311.52 L339.95,311.88 L340.70,312.23 L341.45,312.56 L342.20,312.87 L342.95,313.17 L343.70,313.45 L344.45,313.72 L345.20,313.97 L345.95,314.20 L346.70,314.41 L347.45,314.60 L348.20,314.78 L348.95,314.93 L349.70,315.07 L350.45,315.18 L351.20,315.28 L351.95,315.35 L352.00,315.50 L352.00,326.15 Z" fill="rgba(151,151,151,0.51)" stroke="none"/>
<line x1="49.5" x2="413.5" y1="301.67" y2="301.67" stroke="#fff" stroke-opacity="0.22" stroke-width="1"/>
<line x1="49.5" x2="413.5" y1="277.20" y2="277.20" stroke="#fff" stroke-opacity="0.22" stroke-width="1"/>
<line x1="49.5" x2="413.5" y1="252.72" y2="252.72" stroke="#fff" stroke-opacity="0.22" stroke-width="1"/>
<line x1="49.5" x2="413.5" y1="228.25" y2="228.25" stroke="#fff" stroke-opacity="0.22" stroke-width="1"/>
<line x1="95.90" x2="95.90" y1="223.6" y2="330.8" stroke="#fff" stroke-opacity="0.22" stroke-width="1"/>
<line x1="156.20" x2="156.20" y1="223.6" y2="330.8" stroke="#fff" stroke-opacity="0.22" stroke-width="1"/>
<line x1="216.50" x2="216.50" y1="223.6" y2="330.8" stroke="#fff" stroke-opacity="0.22" stroke-width="1"/>
<line x1="276.80" x2="276.80" y1="223.6" y2="330.8" stroke="#fff" stroke-opacity="0.22" stroke-width="1"/>
<line x1="337.10" x2="337.10" y1="223.6" y2="330.8" stroke="#fff" stroke-opacity="0.22" stroke-width="1"/>
<line x1="397.40" x2="397.40" y1="223.6" y2="330.8" stroke="#fff" stroke-opacity="0.22" stroke-width="1"/>
<path d="M111.20,326.15 L111.20,326.15 L111.95,326.15 L112.70,326.15 L113.45,326.15 L114.20,326.15 L114.95,326.15 L115.70,326.15 L116.45,326.15 L117.20,326.15 L117.95,326.15 L118.70,326.14 L119.45,326.14 L120.20,326.14 L120.95,326.14 L121.70,326.14 L122.45,326.14 L123.20,326.14 L123.95,326.14 L124.70,326.13 L125.45,326.13 L126.20,326.13 L126.95,326.13 L127.70,326.13 L128.45,326.12 L129.20,326.12 L129.95,326.12 L130.70,326.12 L131.45,326.11 L132.20,326.11 L132.95,326.11 L133.70,326.11 L134.45,326.10 L135.20,326.10 L135.95,326.10 L136.70,326.09 L137.45,326.08 L138.20,326.08 L138.95,326.07 L139.70,326.06 L140.45,326.05 L141.20,326.03 L141.95,326.02 L142.70,326.01 L143.45,325.99 L144.20,325.97 L144.95,325.95 L145.70,325.92 L146.45,325.88 L147.20,325.83 L147.95,325.76 L148.70,325.69 L149.45,325.62 L150.20,325.54 L150.95,325.46 L151.70,325.38 L152.45,325.28 L153.20,325.18 L153.95,325.14 L154.70,325.03 L155.45,324.92 L156.20,324.80 L156.95,324.68 L157.70,324.54 L158.45,324.40 L159.20,324.25 L159.95,324.09 L160.70,323.92 L161.45,323.73 L162.20,323.54 L162.95,323.34 L163.70,323.13 L164.45,322.91 L165.20,322.68 L165.95,322.44 L166.70,322.18 L167.45,321.92 L168.20,321.64 L168.95,321.35 L169.70,321.05 L170.45,320.73 L171.20,320.40 L171.95,320.06 L172.70,319.71 L173.45,319.34 L174.20,318.96 L174.95,318.57 L175.70,318.17 L176.45,317.75 L177.20,317.32 L177.95,316.87 L178.70,316.41 L179.45,315.94 L180.20,315.46 L180.95,314.96 L181.70,314.45 L182.45,313.92 L183.20,313.38 L183.95,312.83 L184.70,312.26 L185.45,311.68 L186.20,311.08 L186.95,310.47 L187.70,309.85 L188.45,309.21 L189.20,308.56 L189.95,307.90 L190.70,307.22 L191.45,306.52 L192.20,305.81 L192.95,305.09 L193.70,304.35 L194.45,303.60 L195.20,302.83 L195.95,302.05 L196.70,301.26 L197.45,300.45 L198.20,299.64 L198.95,298.81 L199.70,297.98 L200.45,297.15 L201.20,296.31 L201.95,295.48 L202.70,294.64 L203.45,293.82 L204.20,292.99 L204.95,292.18 L205.70,291.37 L206.45,290.58 L207.20,289.80 L207.95,289.04 L208.70,288.29 L209.45,287.57 L210.20,286.86 L210.95,286.18 L211.70,285.51 L212.45,284.87 L213.20,284.26 L213.95,283.66 L214.70,283.09 L215.45,282.53 L216.20,282.01 L216.95,281.50 L217.70,281.02 L218.45,280.56 L219.20,280.12 L219.95,279.71 L220.70,279.32 L221.45,278.96 L222.20,278.62 L222.95,278.30 L223.70,278.01 L224.45,277.75 L225.20,277.51 L225.95,277.29 L226.70,277.10 L227.45,276.94 L228.20,276.80 L228.95,276.68 L229.70,276.60 L230.45,276.53 L231.20,276.50 L231.95,276.49 L232.70,276.51 L233.45,276.56 L234.20,276.64 L234.95,276.74 L235.70,276.88 L236.45,277.03 L237.20,277.22 L237.95,277.43 L238.70,277.66 L239.45,277.92 L240.20,278.20 L240.95,278.50 L241.70,278.82 L242.45,279.17 L243.20,279.53 L243.95,279.92 L244.70,280.32 L245.45,280.75 L246.20,281.18 L246.95,281.64 L247.70,282.10 L248.45,282.57 L249.20,283.06 L249.95,283.55 L250.70,284.04 L251.45,284.53 L252.20,285.03 L252.95,285.52 L253.70,286.01 L254.45,286.49 L255.20,286.96 L255.95,287.42 L256.70,287.87 L257.45,288.31 L258.20,288.73 L258.95,289.13 L259.70,289.51 L260.45,289.87 L261.20,290.21 L261.95,290.53 L262.70,290.83 L263.45,291.11 L264.20,291.37 L264.95,291.61 L265.70,291.83 L266.45,292.03 L267.20,292.21 L267.95,292.36 L268.70,292.50 L269.45,292.62 L270.20,292.71 L270.95,292.79 L271.70,292.84 L272.45,292.87 L273.20,292.88 L273.95,292.87 L274.70,292.84 L275.45,292.79 L276.20,292.72 L276.95,292.64 L277.70,292.55 L278.45,292.43 L279.20,292.31 L279.95,292.18 L280.70,292.04 L281.45,291.88 L282.20,291.73 L282.95,291.56 L283.70,291.39 L284.45,291.22 L285.20,291.05 L285.95,290.88 L286.70,290.71 L287.45,290.54 L288.20,290.37 L288.95,290.21 L289.70,290.06 L290.45,289.91 L291.20,289.77 L291.95,289.64 L292.70,289.53 L293.45,289.43 L294.20,289.34 L294.95,289.26 L295.70,289.21 L296.45,289.17 L297.20,289.15 L297.95,289.15 L298.70,289.18 L299.45,289.22 L300.20,289.29 L300.95,289.39 L301.70,289.50 L302.45,289.64 L303.20,289.81 L303.95,289.99 L304.70,290.20 L305.45,290.43 L306.20,290.68 L306.95,290.95 L307.70,291.24 L308.45,291.55 L309.20,291.89 L309.95,292.24 L310.70,292.62 L311.45,293.01 L312.20,293.42 L312.95,293.85 L313.70,294.31 L314.45,294.77 L315.20,295.26 L315.95,295.76 L316.70,296.27 L317.45,296.80 L318.20,297.33 L318.95,297.88 L319.70,298.43 L320.45,298.99 L321.20,299.55 L321.95,300.12 L322.70,300.69 L323.45,301.26 L324.20,301.82 L324.95,302.39 L325.70,302.95 L326.45,303.51 L327.20,304.06 L327.95,304.60 L328.70,305.13 L329.45,305.66 L330.20,306.18 L330.95,306.68 L331.70,307.18 L332.45,307.67 L333.20,308.14 L333.95,308.61 L334.70,309.06 L335.45,309.50 L336.20,309.93 L336.95,310.35 L337.70,310.75 L338.45,311.14 L339.20,311.52 L339.95,311.88 L340.70,312.23 L341.45,312.56 L342.20,312.87 L342.95,313.17 L343.70,313.45 L344.45,313.72 L345.20,313.97 L345.95,314.20 L346.70,314.41 L347.45,314.60 L348.20,314.78 L348.95,314.93 L349.70,315.07 L350.45,315.18 L351.20,315.28 L351.95,315.35 L352.00,315.50 L352.00,326.15 Z" fill="none" stroke="#161616" stroke-width="1.55" stroke-linejoin="round"/>
<rect x="49.5" y="223.6" width="364.0" height="107.20000000000002" fill="none" stroke="#939393" stroke-width="1"/>
<rect x="413.5" y="223.6" width="12.0" height="107.20000000000002" fill="#cccccc" stroke="#a4a4a4" stroke-width="1"/>
<text x="0" y="0" font-size="10.2" fill="#000" stroke="#000" stroke-width="0.3" text-anchor="middle" transform="translate(415.20,277.60) rotate(90) scale(0.86,1)">3</text>
<line x1="45.6" x2="49.5" y1="326.15" y2="326.15" stroke="#1a1a1a" stroke-width="1.1"/>
<text x="43.9" y="330.30" font-size="11.1" fill="#000" stroke="#000" stroke-width="0.3" text-anchor="end">0.00</text>
<line x1="45.6" x2="49.5" y1="277.20" y2="277.20" stroke="#1a1a1a" stroke-width="1.1"/>
<text x="43.9" y="281.35" font-size="11.1" fill="#000" stroke="#000" stroke-width="0.3" text-anchor="end">0.05</text>
<line x1="45.6" x2="49.5" y1="228.25" y2="228.25" stroke="#1a1a1a" stroke-width="1.1"/>
<text x="43.9" y="232.40" font-size="11.1" fill="#000" stroke="#000" stroke-width="0.3" text-anchor="end">0.10</text>
</g>
<line x1="156.20" x2="156.20" y1="330.8" y2="334.5" stroke="#1a1a1a" stroke-width="1.4"/>
<text x="156.20" y="347.5" font-size="11.1" fill="#000" stroke="#000" stroke-width="0.3" text-anchor="middle">60</text>
<line x1="276.80" x2="276.80" y1="330.8" y2="334.5" stroke="#1a1a1a" stroke-width="1.4"/>
<text x="276.80" y="347.5" font-size="11.1" fill="#000" stroke="#000" stroke-width="0.3" text-anchor="middle">80</text>
<line x1="397.40" x2="397.40" y1="330.8" y2="334.5" stroke="#1a1a1a" stroke-width="1.4"/>
<text x="397.40" y="347.5" font-size="11.1" fill="#000" stroke="#000" stroke-width="0.3" text-anchor="middle">100</text>
<text x="231" y="362.3" font-size="12.8" fill="#000" stroke="#000" stroke-width="0.3" text-anchor="middle">Score</text>
<text x="0" y="0" font-size="12.5" fill="#000" stroke="#000" stroke-width="0.3" text-anchor="middle" transform="translate(10.0,166.6) rotate(-90)">density</text>
</svg>
</body></html>
